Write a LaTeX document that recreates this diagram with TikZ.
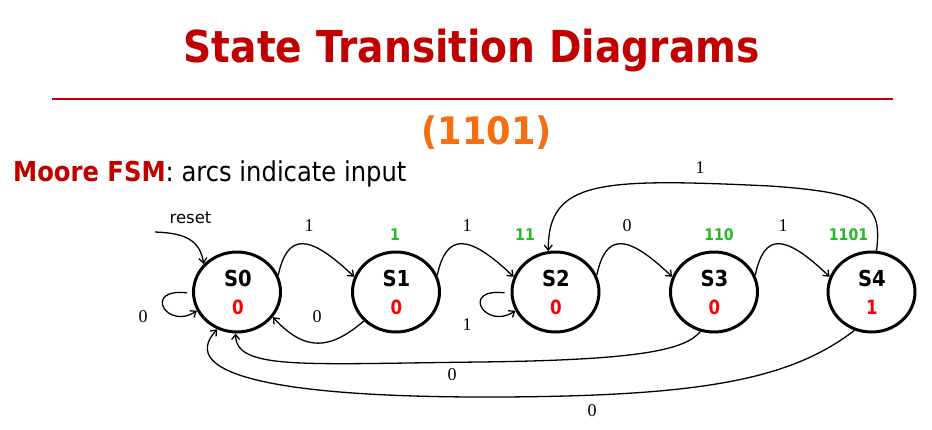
\documentclass[tikz,border=0pt]{standalone}
\usepackage{fontspec}
\usepackage{graphicx}
\setmainfont{DejaVu Sans}
\newfontfamily\lblserif{Liberation Serif}
\usetikzlibrary{shapes.geometric,arrows.meta}
\definecolor{titlered}{RGB}{192,0,0}
\definecolor{hdorange}{RGB}{245,110,15}
\definecolor{seqgreen}{RGB}{30,190,30}
\definecolor{outred}{RGB}{255,0,0}
\begin{document}
\begin{tikzpicture}[x=1pt,y=-1pt,
  fsmstate/.style={ellipse,draw,line width=3pt,minimum width=87pt,minimum height=80pt,inner sep=0pt},
  sname/.style={font=\fontsize{22}{25}\selectfont\bfseries,inner sep=0pt,anchor=base},
  outval/.style={font=\fontsize{19.6}{22}\selectfont\bfseries,text=outred,inner sep=0pt,anchor=base},
  seq/.style={font=\fontsize{16}{19}\selectfont\bfseries,text=seqgreen,inner sep=0pt,anchor=base},
  elbl/.style={font=\lblserif\fontsize{18}{21}\selectfont,inner sep=0pt},
  tr/.style={line width=1.3pt,-{Straight Barb[length=5pt,width=8pt]}},
]
\fill[white] (0,0) rectangle (932,429);
\useasboundingbox (0,0) rectangle (932,429);

% header
\node[anchor=base,text=titlered,font=\fontsize{44}{50}\selectfont\bfseries,inner sep=0pt] (title) at (471.7,62) {\scalebox{0.89}[1]{State Transition Diagrams}};
\coordinate (ruleL) at (52,99);
\coordinate (ruleR) at (893,99);
\draw[titlered,line width=2pt] (ruleL) -- (ruleR);
\node[anchor=base,text=hdorange,font=\fontsize{37.9}{42}\selectfont\bfseries,inner sep=0pt] (seqhead) at (486.7,144.3) {\scalebox{0.93}[1]{(1101)}};
\node[anchor=base west,font=\fontsize{27.4}{32}\selectfont,inner sep=0pt] (moore) at (13,181.7) {\scalebox{0.885}[1]{\textcolor{titlered}{\bfseries Moore FSM}: arcs indicate input}};

% states
\node[fsmstate] (s0) at (237,292) {};
\node[fsmstate] (s1) at (396,292) {};
\node[fsmstate] (s2) at (555.5,292) {};
\node[fsmstate] (s3) at (714,292) {};
\node[fsmstate] (s4) at (871.5,292) {};

\node[sname] (n0) at (238,286.7) {\scalebox{0.89}[1]{S0}};
\node[sname] (n1) at (396.5,286.7) {\scalebox{0.89}[1]{S1}};
\node[sname] (n2) at (556,286.7) {\scalebox{0.89}[1]{S2}};
\node[sname] (n3) at (714.5,286.7) {\scalebox{0.89}[1]{S3}};
\node[sname] (n4) at (872,286.7) {\scalebox{0.89}[1]{S4}};

\node[outval] (o0) at (238,314.3) {\scalebox{0.85}[1]{0}};
\node[outval] (o1) at (396.5,314.3) {\scalebox{0.85}[1]{0}};
\node[outval] (o2) at (556,314.3) {\scalebox{0.85}[1]{0}};
\node[outval] (o3) at (714.5,314.3) {\scalebox{0.85}[1]{0}};
\node[outval] (o4) at (872,314.3) {\scalebox{0.85}[1]{1}};

\node[seq] (q1) at (395,240.7) {\scalebox{0.88}[1]{1}};
\node[seq] (q2) at (525,240.7) {\scalebox{0.88}[1]{11}};
\node[seq] (q3) at (719,240.7) {\scalebox{0.88}[1]{110}};
\node[seq] (q4) at (848.5,240.7) {\scalebox{0.88}[1]{1101}};

% reset
\node[font=\fontsize{16.5}{19}\selectfont,anchor=base,inner sep=0pt] (resetlbl) at (190.5,223.3) {reset};
\coordinate (rst) at (155,232);
\draw[tr] (rst) .. controls (185,233) and (200,240) .. (s0.140);

% transitions
\draw[tr] ([xshift=-5pt]s0.181) .. controls +(-45,-5) and +(-30,20) .. (s0.205);
\draw[tr] (s0.22) .. controls +(9,-42) and +(-46,-44) .. (s1.160);
\draw[tr] (s1.22) .. controls +(9,-42) and +(-46,-44) .. (s2.160);
\draw[tr] (s2.22) .. controls +(9,-42) and +(-46,-44) .. (s3.160);
\draw[tr] (s3.22) .. controls +(9,-42) and +(-46,-44) .. (s4.160);
\draw[tr] (s1.222) .. controls (330,350) and (305,352) .. (s0.-35);
\draw[tr] ([xshift=-6pt]s2.181) .. controls +(-45,-5) and +(-30,20) .. (s2.205);
\draw[tr] (s4.83) .. controls (882,205) and (870,193) .. (770,186) .. controls (600,178) and (548,180) .. (s2.100);
\draw[tr] (s3.251) .. controls (685,350) and (640,360) .. (480,362) .. controls (300,364) and (236,370) .. (s0.268);
\draw[tr] (s4.246) .. controls (790,380) and (700,396) .. (500,397) .. controls (280,398) and (175,375) .. (s0.242);

% edge labels
\node[elbl] (l01) at (309,226) {1};
\node[elbl] (l00) at (143,317) {0};
\node[elbl] (l10) at (317,317) {0};
\node[elbl] (l12) at (467,226) {1};
\node[elbl] (l22) at (467,325) {1};
\node[elbl] (l23) at (627,226) {0};
\node[elbl] (l34) at (783,226) {1};
\node[elbl] (l42) at (700,168) {1};
\node[elbl] (l30) at (452,375) {0};
\node[elbl] (l40) at (592,411) {0};
\end{tikzpicture}
\end{document}
